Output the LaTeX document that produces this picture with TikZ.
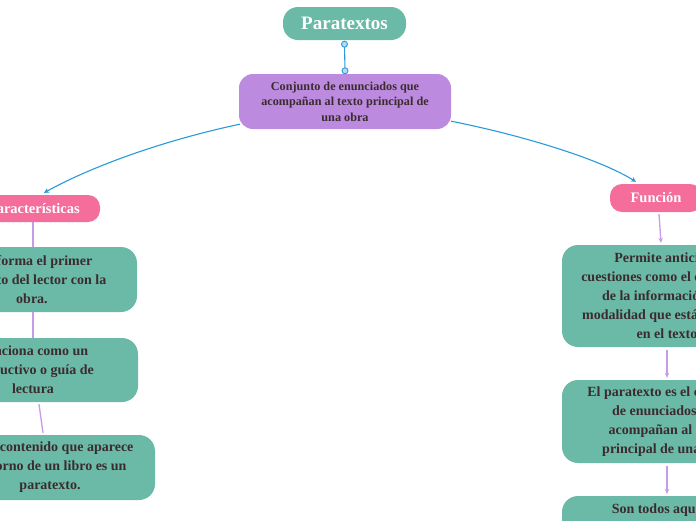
\documentclass[tikz,border=0pt]{standalone}
\usepackage{fontspec}
\setmainfont{Liberation Serif}
\usetikzlibrary{arrows.meta}
\definecolor{tealc}{HTML}{6BBAA7}
\definecolor{pinkc}{HTML}{F46D9B}
\definecolor{purpc}{HTML}{BC8BE0}
\definecolor{txtc}{HTML}{3B2B2F}
\definecolor{bluec}{HTML}{2A9AD8}
\definecolor{linkc}{HTML}{C79BE8}
\begin{document}
\begin{tikzpicture}[x=1pt,y=-1pt,
  box/.style={rectangle, inner sep=0pt, align=center, text=txtc,
    font=\bfseries\fontsize{14}{19}\selectfont},
  tealbox/.style={box, fill=tealc, rounded corners=16pt, minimum width=210pt},
  pinkbox/.style={box, fill=pinkc, rounded corners=12pt, text=white,
    font=\bfseries\fontsize{14.5}{17}\selectfont},
  bluelink/.style={draw=bluec, line width=1.1pt},
  bluearrow/.style={bluelink, -{Stealth[length=5pt,width=5pt]}},
  purplink/.style={draw=linkc, line width=1.3pt},
  purparrow/.style={purplink, -{Stealth[length=5pt,width=4.5pt]}}]
\useasboundingbox (0,0) rectangle (696,520);
\fill[white] (0,0) rectangle (696,520);
\clip (0,0) rectangle (696,520);

% top
\node[box, fill=tealc, rounded corners=15pt, text=white, minimum width=123pt,
  minimum height=33pt, font=\bfseries\fontsize{19}{22}\selectfont]
  (para) at (344.5,23.5) {Paratextos};
\node[box, fill=purpc, rounded corners=14pt, minimum width=212pt,
  minimum height=55pt, font=\bfseries\fontsize{12.2}{15.5}\selectfont]
  (conj) at (345,101.5) {Conjunto de enunciados que\\acompañan al texto principal de\\una obra};

% left branch
\node[pinkbox, minimum width=134pt, minimum height=27pt] (car) at (33,208.5) {Características};
\node[tealbox, minimum height=65pt] (l1) at (32,279.5) {Conforma el primer\\contacto del lector con la\\obra.};
\node[tealbox, minimum height=64pt] (l2) at (33,370) {Funciona como un\\instructivo o guía de\\lectura};
\node[tealbox, minimum height=65pt] (l3) at (50,467.5) {Todo contenido que aparece\\en torno de un libro es un\\paratexto.};

% right branch
\node[pinkbox, minimum width=92pt, minimum height=28pt] (fun) at (656,198) {Función};
\node[tealbox, minimum height=102pt] (r1) at (667,296) {Permite anticipar\\cuestiones como el contenido\\de la información y la\\modalidad que está presente\\en el texto};
\node[tealbox, minimum height=83pt] (r2) at (667,421.5) {El paratexto es el conjunto\\de enunciados que\\acompañan al texto\\principal de una obra};
\node[tealbox, minimum height=83pt] (r3) at (667,537.5) {Son todos aquellos\\elementos que rodean\\al texto principal\\de una obra};

% connectors
\draw[bluelink] ([yshift=-4pt]para.south) -- ([yshift=3pt]conj.north);
\draw[bluec, fill=bluec!35, line width=0.9pt] ([yshift=-4pt]para.south) circle (3pt);
\draw[bluec, fill=bluec!35, line width=0.9pt] ([yshift=3pt]conj.north) circle (3pt);

\draw[bluearrow] ([shift={(1,-5)}]conj.south west) .. controls +(-80,17) and +(45,-25) .. ([shift={(11,-2)}]car.north);
\draw[bluearrow] ([shift={(0,-8)}]conj.south east) .. controls +(75,15) and +(-35,-22) .. ([shift={(-20,-2)}]fun.north);

\draw[purplink] (car.south) -- (l1.north -| car.south);
\draw[purplink] ([xshift=1pt]l1.south) -- (l2.north);
\draw[purplink] ([shift={(6,2)}]l2.south) -- ([shift={(-7,-2)}]l3.north);

\draw[purparrow] ([shift={(3,2)}]fun.south) -- ([shift={(-6,-2)}]r1.north);
\draw[purparrow] ([yshift=-3pt]r1.south) -- ([yshift=2pt]r2.north);
\draw[purparrow] ([yshift=-3pt]r2.south) -- ([yshift=2pt]r3.north);
\end{tikzpicture}
\end{document}
